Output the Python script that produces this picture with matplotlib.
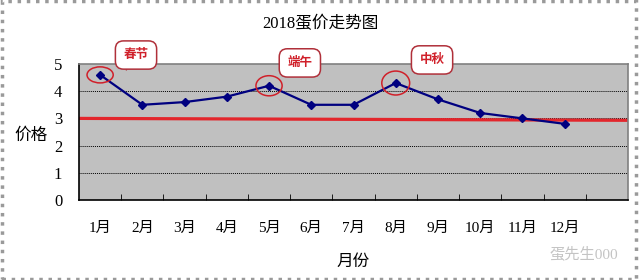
import matplotlib
matplotlib.use("Agg")
import matplotlib.pyplot as plt
from matplotlib.patches import Ellipse, Rectangle

months = ["1月", "2月", "3月", "4月", "5月", "6月", "7月", "8月", "9月", "10月", "11月", "12月"]
prices = [4.6, 3.5, 3.6, 3.8, 4.2, 3.5, 3.5, 4.3, 3.7, 3.2, 3.0, 2.8]
baseline_x = [-0.5, 12.5]
baseline_y = [3.0, 2.93]
callout_labels = ["春节", "端午", "中秋"]
callout_idx = [0, 4, 7]
y_ticks = [0, 1, 2, 3, 4, 5]

FONT = ["Liberation Serif", "Noto Sans CJK SC"]
plt.rcParams["font.family"] = FONT

fig = plt.figure(figsize=(6.4, 2.8), dpi=100)
fig.patch.set_facecolor("white")
fig.patches.append(Rectangle((0.003, 0.005), 0.99, 0.99, transform=fig.transFigure,
                             fill=False, edgecolor="#9a9a9a", linestyle=":", linewidth=2.5))

ax = fig.add_axes([79/640, 1-200/280, 549/640, 136/280])
ax.set_facecolor("#C0C0C0")
ax.set_xlim(-0.5, 12.5)
ax.set_ylim(0, 5)

for y in y_ticks[1:-1]:
    ax.axhline(y, color="black", linestyle=(0, (1, 1)), linewidth=0.7, zorder=1)

ax.plot(baseline_x, baseline_y, color="#E3262C", linewidth=2.3, zorder=2)
xs = list(range(len(months)))
ax.plot(xs, prices, color="#000080", linewidth=1.6, marker="D", markersize=4.5, zorder=3)

ax.set_yticks(y_ticks)
ax.set_yticklabels([str(v) for v in y_ticks], fontsize=12)
ax.tick_params(axis="y", length=0, pad=12)
ax.set_xticks(xs)
ax.set_xticklabels(months, fontsize=11)
ax.tick_params(axis="x", length=0, pad=16)
ax.set_xticks([i + 0.5 for i in range(12)], minor=True)
ax.tick_params(axis="x", which="minor", direction="in", length=4, color="black")

for s in ["left", "bottom"]:
    ax.spines[s].set_color("black")
    ax.spines[s].set_linewidth(1.2)
for s in ["top", "right"]:
    ax.spines[s].set_color("#808080")
    ax.spines[s].set_linewidth(1.2)

ax.set_ylabel("价格", fontsize=12, rotation=0, va="center", ha="center")
ax.yaxis.set_label_coords(-0.088, 0.47)
ax.set_xlabel("月份", fontsize=12)
ax.xaxis.set_label_coords(0.5, -0.40)

fig.text(0.5, 0.915, "2018蛋价走势图", ha="center", va="center", fontsize=12)

# circles around highlighted points
ell_sizes = [(0.62, 0.59), (0.62, 0.74), (0.66, 0.88)]
for i, (w, h) in zip(callout_idx, ell_sizes):
    ax.add_patch(Ellipse((i, prices[i]), w, h, fill=False, edgecolor="#D0202A",
                         linewidth=1.1, zorder=4, clip_on=False))

# callout boxes
box_pos = [(0.85, 5.33), (4.73, 5.04), (7.86, 5.15)]
tail_pos = [(0.62, 4.78), (4.45, 4.68), (7.69, 4.68)]
for lab, (bx, by), (tx, ty) in zip(callout_labels, box_pos, tail_pos):
    ax.annotate(lab, xy=(tx, ty), xytext=(bx, by), ha="center", va="center",
                fontsize=9, color="#D0202A", fontweight="bold", annotation_clip=False,
                bbox=dict(boxstyle="round,pad=0.65", fc="white", ec="#B0303A", lw=1.1),
                arrowprops=dict(arrowstyle="-", color="#B0303A", lw=1.0, shrinkA=0, shrinkB=0),
                zorder=5)

fig.text(0.965, 0.095, "蛋先生000", ha="right", va="center", fontsize=11, color="#c4c4c4")

fig.savefig("out.png", dpi=100, facecolor="white")
